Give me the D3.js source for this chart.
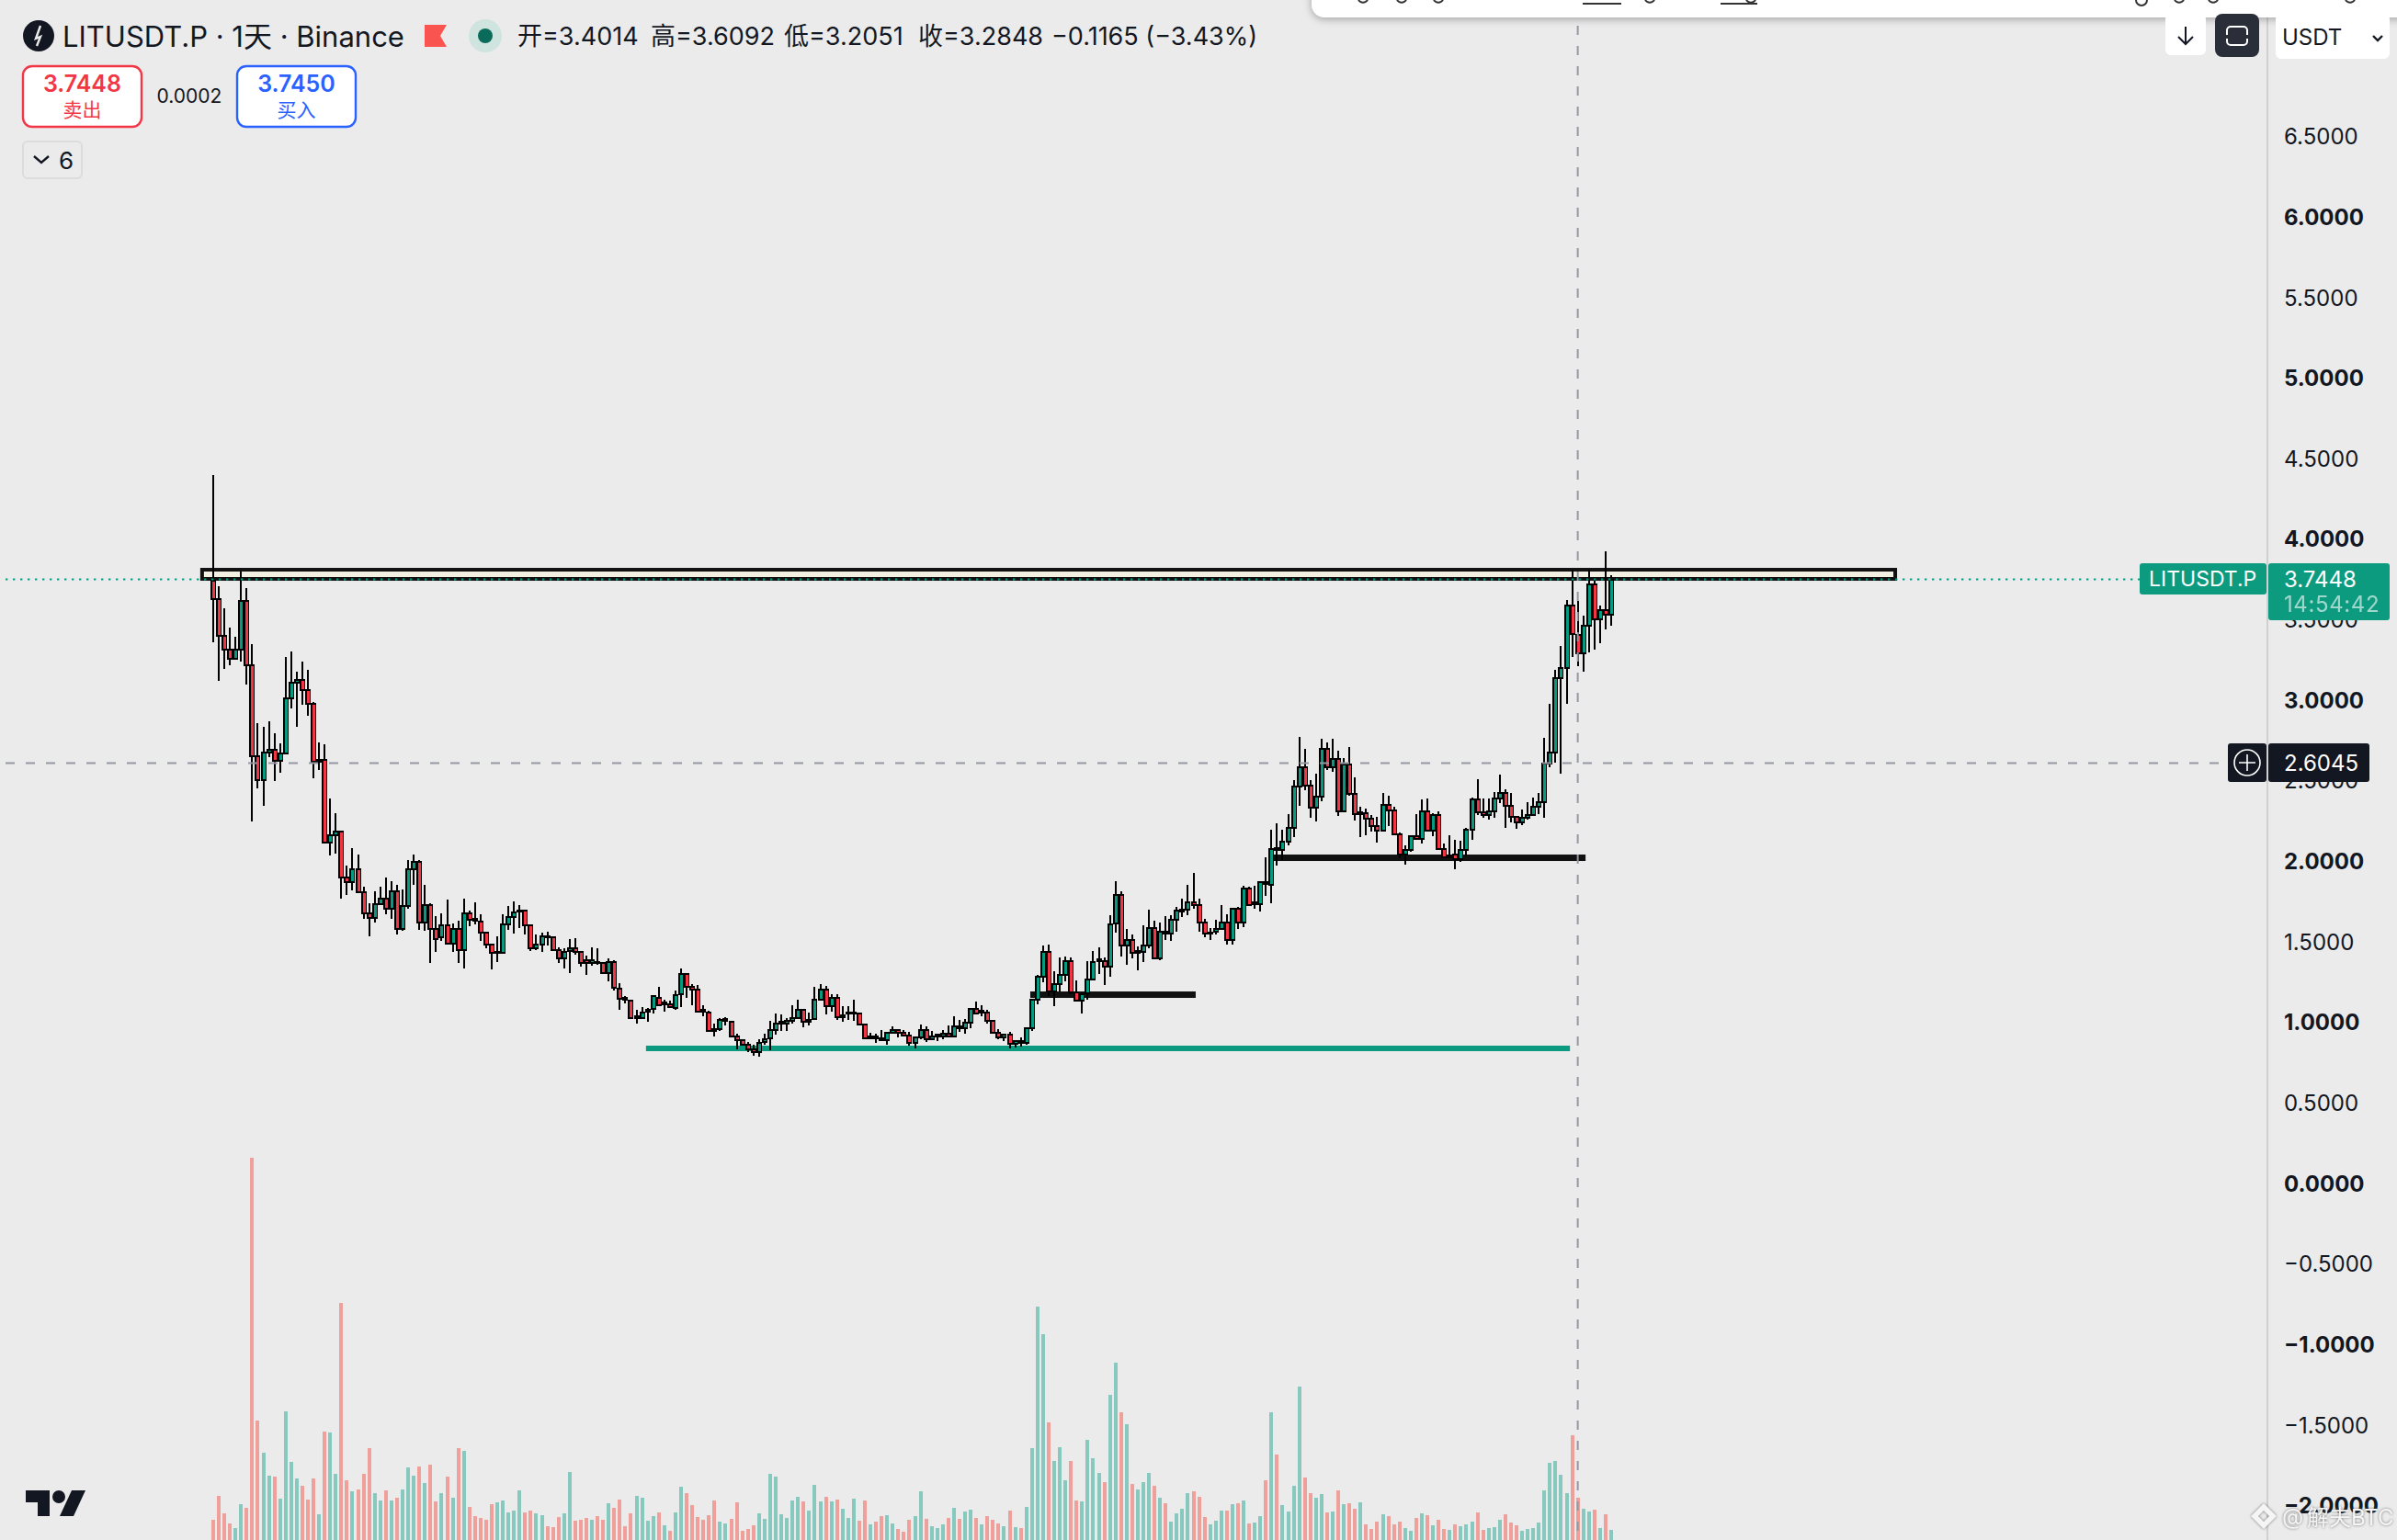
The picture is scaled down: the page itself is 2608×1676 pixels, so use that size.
<!DOCTYPE html>
<html lang="en">
<head>
<meta charset="utf-8">
<script src="https://d3js.org/d3.v7.min.js"></script>
<style>
  body { margin: 0; background: #ebebeb; }
  svg { display: block; font-family: Inter, "Noto Sans CJK SC", sans-serif; }
  .price-axis text { font-family: Inter, sans-serif; font-size: 24px; fill: #131722; }
  .price-axis text.major { font-weight: 700; }
</style>
</head>
<body>
<div id="chart"></div>
<script type="text/javascript">
var opens = [3.736,3.625,3.396,3.311,3.254,3.311,3.610,3.210,2.649,2.501,
  2.671,2.689,2.621,2.664,3.005,3.105,3.119,3.055,2.974,2.612,
  2.627,2.110,2.156,2.178,1.892,1.863,1.948,1.804,1.673,1.645,
  1.730,1.761,1.702,1.811,1.577,1.715,1.948,1.992,1.612,1.724,
  1.573,1.525,1.599,1.486,1.575,1.446,1.669,1.636,1.623,1.549,
  1.475,1.427,1.429,1.601,1.647,1.684,1.691,1.595,1.453,1.479,
  1.529,1.521,1.444,1.390,1.440,1.455,1.431,1.379,1.361,1.368,
  1.361,1.300,1.372,1.204,1.145,1.131,1.023,1.023,1.061,1.076,
  1.149,1.109,1.109,1.084,1.168,1.293,1.213,1.196,1.071,1.053,
  .954,.954,1.006,.996,.909,.882,.858,.829,.810,.871,
  .894,.949,.989,.987,1.006,1.023,1.074,.996,1.014,1.133,
  1.200,1.093,1.145,1.025,1.048,1.048,1.048,.979,.897,.905,
  .897,.882,.928,.945,.928,.915,.865,.899,.949,.888,
  .909,.909,.922,.905,.968,.956,.991,1.080,1.057,1.057,
  1.002,.928,.901,.917,.861,.877,.865,.956,1.133,1.276,
  1.430,1.185,1.230,1.291,1.377,1.181,1.128,1.175,1.263,1.377,
  1.377,1.341,1.607,1.784,1.470,1.504,1.428,1.430,1.470,1.582,
  1.390,1.556,1.544,1.630,1.685,1.692,1.738,1.721,1.612,1.544,
  1.556,1.573,1.612,1.504,1.698,1.612,1.824,1.730,1.730,1.864,
  1.850,2.075,2.063,2.115,2.200,2.457,2.577,2.463,2.326,2.394,
  2.691,2.577,2.628,2.303,2.594,2.411,2.289,2.291,2.257,2.211,
  2.183,2.343,2.308,2.160,2.035,2.063,2.149,2.132,2.303,2.183,
  2.280,2.069,2.018,2.035,2.006,2.063,2.189,2.377,2.297,2.280,
  2.303,2.383,2.417,2.337,2.269,2.234,2.263,2.280,2.331,2.360,
  2.599,2.668,3.130,3.193,3.580,3.4014,3.285,3.455,3.712,3.495,3.552,3.523];

var highs = [4.393,3.701,3.566,3.446,3.389,3.795,3.690,3.343,2.852,2.830,
  2.863,2.787,2.726,3.263,3.298,3.171,3.234,3.184,2.983,2.732,
  2.721,2.383,2.293,2.178,1.968,2.077,2.036,1.835,1.735,1.807,
  1.839,1.892,1.874,1.848,1.820,2.005,2.036,2.005,1.848,1.735,
  1.652,1.669,1.756,1.608,1.625,1.765,1.691,1.739,1.663,1.560,
  1.481,1.529,1.663,1.715,1.743,1.724,1.693,1.604,1.540,1.551,
  1.558,1.529,1.459,1.455,1.512,1.516,1.440,1.409,1.459,1.455,
  1.368,1.390,1.383,1.237,1.160,1.135,1.072,1.090,1.084,1.162,
  1.213,1.133,1.128,1.190,1.329,1.301,1.230,1.225,1.099,1.065,
  .987,1.019,1.025,1.002,.922,.888,.871,.854,.888,.922,
  1.002,1.048,1.044,1.021,1.099,1.133,1.078,1.053,1.213,1.230,
  1.219,1.168,1.168,1.093,1.093,1.133,1.053,.985,.928,.922,
  .945,.934,.968,.951,.945,.934,.905,.979,.968,.939,
  .917,.945,.974,1.031,1.008,1.014,1.084,1.122,1.099,1.071,
  1.008,.951,.924,.934,.880,.899,.962,1.135,1.287,1.470,
  1.476,1.310,1.396,1.401,1.396,1.253,1.181,1.373,1.436,1.459,
  1.396,1.660,1.871,1.807,1.573,1.538,1.464,1.595,1.692,1.624,
  1.612,1.652,1.658,1.709,1.761,1.846,1.921,1.761,1.635,1.578,
  1.630,1.721,1.664,1.698,1.709,1.841,1.835,1.841,1.869,2.018,
  2.189,2.230,2.189,2.286,2.497,2.765,2.691,2.497,2.537,2.753,
  2.732,2.753,2.679,2.634,2.702,2.514,2.331,2.320,2.280,2.269,
  2.417,2.400,2.331,2.171,2.092,2.154,2.286,2.377,2.383,2.291,
  2.303,2.103,2.154,2.126,2.120,2.200,2.388,2.502,2.383,2.383,
  2.423,2.531,2.440,2.417,2.274,2.314,2.360,2.388,2.417,2.759,
  2.972,3.183,3.329,3.615,3.805,3.6092,3.520,3.805,3.748,3.582,3.919,3.771];

var lows = [3.354,3.114,3.188,3.212,3.254,3.234,3.092,2.241,2.446,2.339,
  2.640,2.492,2.544,2.656,2.944,2.830,2.966,2.898,2.509,2.562,
  2.110,2.031,2.044,1.763,1.785,1.813,1.800,1.636,1.529,1.614,
  1.730,1.665,1.636,1.540,1.564,1.700,1.848,1.569,1.564,1.363,
  1.431,1.499,1.477,1.431,1.363,1.328,1.590,1.604,1.501,1.455,
  1.324,1.370,1.418,1.569,1.547,1.579,1.540,1.438,1.444,1.431,
  1.473,1.440,1.363,1.328,1.300,1.414,1.342,1.289,1.346,1.353,
  1.298,1.250,1.193,1.071,1.112,1.017,.989,1.017,1.000,1.052,
  1.095,1.063,1.084,1.074,1.092,1.149,1.103,1.055,1.034,.937,
  .909,.943,.975,.903,.827,.850,.812,.789,.782,.856,
  .823,.918,.941,.941,.987,1.017,.966,.975,1.010,1.128,
  1.044,1.061,1.010,.998,1.010,1.004,.975,.890,.890,.867,
  .880,.856,.924,.901,.907,.850,.833,.888,.873,.884,
  .879,.890,.901,.901,.936,.924,.958,1.044,1.032,.987,
  .924,.892,.879,.833,.839,.844,.858,.941,1.107,1.244,
  1.158,1.095,1.185,1.249,1.171,1.124,1.050,1.135,1.255,1.295,
  1.227,1.278,1.552,1.403,1.352,1.392,1.318,1.369,1.457,1.390,
  1.381,1.504,1.500,1.557,1.649,1.660,1.700,1.557,1.523,1.506,
  1.540,1.569,1.477,1.477,1.575,1.586,1.717,1.700,1.681,1.780,
  1.734,1.970,2.004,2.096,2.147,2.339,2.436,2.265,2.242,2.367,
  2.561,2.550,2.276,2.303,2.402,2.248,2.145,2.156,2.179,2.111,
  2.183,2.213,2.156,2.014,1.974,2.054,2.128,2.105,2.183,2.151,
  2.065,2.014,2.014,1.945,1.991,2.031,2.128,2.282,2.263,2.253,
  2.265,2.354,2.202,2.236,2.196,2.219,2.253,2.276,2.287,2.265,
  2.578,2.607,2.540,2.972,3.263,3.2051,3.172,3.291,3.309,3.348,3.434,3.457];

var closes = [3.625,3.396,3.311,3.254,3.311,3.610,3.210,2.649,2.501,2.671,
  2.689,2.621,2.664,3.005,3.101,3.119,3.055,2.970,2.612,2.627,
  2.110,2.154,2.178,1.892,1.863,1.948,1.804,1.673,1.645,1.730,
  1.761,1.702,1.811,1.577,1.715,1.948,1.992,1.612,1.724,1.573,
  1.514,1.599,1.486,1.575,1.446,1.669,1.630,1.628,1.549,1.475,
  1.425,1.433,1.601,1.647,1.678,1.691,1.595,1.453,1.477,1.529,
  1.521,1.444,1.390,1.433,1.455,1.431,1.361,1.361,1.379,1.361,
  1.300,1.368,1.211,1.141,1.136,1.019,1.031,1.057,1.071,1.156,
  1.101,1.116,1.088,1.162,1.293,1.213,1.196,1.063,1.061,.939,
  .939,1.008,1.014,.909,.882,.858,.829,.810,.869,.892,
  .949,.989,.996,1.006,1.023,1.074,.996,1.012,1.133,1.200,
  1.093,1.145,1.025,1.040,1.055,1.055,.979,.894,.905,.897,
  .882,.928,.945,.928,.915,.865,.899,.949,.888,.905,
  .917,.922,.905,.968,.956,.991,1.080,1.052,1.065,1.002,
  .928,.899,.917,.861,.877,.865,.956,1.133,1.276,1.430,
  1.185,1.230,1.291,1.377,1.181,1.128,1.169,1.263,1.367,1.384,
  1.341,1.601,1.784,1.470,1.504,1.424,1.436,1.470,1.582,1.390,
  1.556,1.544,1.630,1.687,1.692,1.738,1.721,1.612,1.544,1.554,
  1.573,1.612,1.504,1.698,1.612,1.824,1.721,1.738,1.864,1.852,
  2.069,2.065,2.115,2.200,2.457,2.577,2.463,2.326,2.394,2.691,
  2.577,2.628,2.303,2.594,2.411,2.286,2.297,2.257,2.211,2.183,
  2.343,2.308,2.160,2.035,2.063,2.149,2.132,2.303,2.183,2.280,
  2.069,2.018,2.029,2.006,2.063,2.189,2.377,2.297,2.280,2.303,
  2.383,2.417,2.337,2.269,2.234,2.263,2.280,2.331,2.360,2.599,
  2.668,3.130,3.193,3.580,3.404,3.2848,3.455,3.712,3.495,3.552,3.523,3.7448];

// volume in thousands
var volumes = [22,48,29,18,13,39,35,416,130,95,
  70,69,45,140,85,67,59,44,67,28,
  118,117,72,258,65,53,55,72,100,51,
  43,54,43,46,55,79,70,80,62,82,
  42,51,69,46,100,97,36,26,24,22,
  39,41,43,30,32,54,30,32,29,27,
  15,14,25,29,74,21,22,24,22,26,
  22,40,35,44,15,29,48,46,21,26,
  30,16,10,30,58,51,38,25,22,27,
  43,20,18,23,41,10,12,16,29,23,
  72,69,28,24,43,47,42,32,60,42,
  47,42,44,34,24,45,21,43,17,20,
  26,27,18,12,9,22,26,53,23,15,
  13,17,24,35,23,31,33,24,17,26,
  22,18,15,32,14,13,36,100,254,224,
  128,86,101,65,86,43,42,109,89,73,
  63,158,193,139,126,61,55,63,73,59,
  46,40,20,29,34,51,53,47,25,17,
  21,32,32,39,40,43,18,19,26,65,
  139,93,38,31,59,167,68,51,46,50,
  30,31,54,39,40,34,41,17,12,20,
  28,26,17,20,13,10,24,29,27,16,
  22,12,11,17,15,17,20,30,11,13,
  14,22,28,19,16,10,12,13,19,54,
  84,86,71,51,114,46,34,31,33,13,28,11];

var priceTicks = [6.5,6,5.5,5,4.5,4,3.5,3,2.5,2,1.5,1,0.5,0,-0.5,-1,-1.5,-2];

// drawn levels: price, first bar, last bar
var levelPrices = [1.1666, 2.0166, 0.8329];
var levelStarts = [146.7, 190.3, 77.7];
var levelEnds = [176.4, 246.4, 243.6];
var levelColors = ["#111111", "#111111", "#0b9a80"];

var zoneTop = 3.805, zoneBottom = 3.748, zoneStart = -2, zoneEnd = 302;
var lastPrice = 3.7448, crossPrice = 2.6045, crossBar = 245;

var ohlcParts = ["开=3.4014", "高=3.6092", "低=3.2051", "收=3.2848", "−0.1165 (−3.43%)"];
var ohlcX = [563, 708, 853, 999, 1144];

var width = 2608, height = 1676;
var upColor = "#089981", downColor = "#f23645";

var x = d3.scaleLinear().domain([0, 251]).range([232, 1753]);
var y = d3.scaleLinear().domain([-2, 6.5]).range([1637.6, 147.6]);
var vol = d3.scaleLinear().domain([0, 420]).range([1676, 1256]);

var svg = d3.select("#chart").append("svg")
    .attr("width", width).attr("height", height);

svg.append("rect").attr("width", width).attr("height", height).attr("fill", "#ebebeb");

// axis
var axis = d3.axisRight(y).tickValues(priceTicks).tickSize(0).tickPadding(0)
    .tickFormat(d3.format(".4f"));
var axisG = svg.append("g").attr("class", "price-axis")
    .attr("transform", "translate(2485,0)").call(axis);
axisG.select(".domain").remove();
axisG.selectAll("text")
    .attr("dy", "0.38em")
    .classed("major", function (d) { return d % 1 === 0; });

svg.append("line").attr("x1", 2467).attr("x2", 2467).attr("y1", 0).attr("y2", height)
    .attr("stroke", "#d0d0d0").attr("stroke-width", 2);

// volume
svg.append("g").selectAll("rect").data(volumes).enter().append("rect")
    .attr("x", function (d, i) { return Math.round(x(i)) - 2; })
    .attr("width", 4)
    .attr("y", function (d) { return vol(d); })
    .attr("height", function (d) { return vol(0) - vol(d); })
    .attr("fill", function (d, i) { return closes[i] >= opens[i] ? "#88c9bf" : "#f0a09b"; });

// resistance zone
svg.append("rect")
    .attr("x", x(zoneStart)).attr("width", x(zoneEnd) - x(zoneStart))
    .attr("y", y(zoneTop)).attr("height", y(zoneBottom) - y(zoneTop))
    .attr("fill", "#f2efe3").attr("stroke", "#111111").attr("stroke-width", 4);

// horizontal levels
svg.append("g").selectAll("rect").data(levelPrices).enter().append("rect")
    .attr("x", function (d, i) { return x(levelStarts[i]); })
    .attr("width", function (d, i) { return x(levelEnds[i]) - x(levelStarts[i]); })
    .attr("y", function (d, i) { return y(d) - (i === 2 ? 3 : 3.5); })
    .attr("height", function (d, i) { return i === 2 ? 6 : 7; })
    .attr("fill", function (d, i) { return levelColors[i]; });

// candles
var candles = svg.append("g").selectAll("g").data(opens).enter().append("g")
    .attr("shape-rendering", "crispEdges");
candles.append("rect")
    .attr("x", function (d, i) { return Math.round(x(i)) - 1; })
    .attr("width", 2)
    .attr("y", function (d, i) { return y(highs[i]); })
    .attr("height", function (d, i) { return y(lows[i]) - y(highs[i]); })
    .attr("fill", "#000");
candles.append("rect")
    .attr("x", function (d, i) { return Math.round(x(i)) - 3; })
    .attr("width", 6)
    .attr("y", function (d, i) { return y(Math.max(d, closes[i])) - 1; })
    .attr("height", function (d, i) { return Math.abs(y(d) - y(closes[i])) + 2; })
    .attr("fill", "#000");
candles.append("rect")
    .attr("x", function (d, i) { return Math.round(x(i)) - 1; })
    .attr("width", 3)
    .attr("y", function (d, i) { return y(Math.max(d, closes[i])) + 1; })
    .attr("height", function (d, i) { return Math.max(0, Math.abs(y(d) - y(closes[i])) - 2); })
    .attr("fill", function (d, i) { return closes[i] >= d ? upColor : downColor; });

// last price dotted line
svg.append("line").attr("x1", 6).attr("x2", 2330)
    .attr("y1", y(lastPrice)).attr("y2", y(lastPrice))
    .attr("stroke", "#089981").attr("stroke-width", 2).attr("stroke-dasharray", "2.4,5.6");

// crosshair
svg.append("line").attr("x1", 6).attr("x2", 2424)
    .attr("y1", y(crossPrice)).attr("y2", y(crossPrice))
    .attr("stroke", "#9598a1").attr("stroke-width", 2).attr("stroke-dasharray", "10,12");
svg.append("line").attr("x1", x(crossBar)).attr("x2", x(crossBar))
    .attr("y1", 6).attr("y2", height)
    .attr("stroke", "#9598a1").attr("stroke-width", 2).attr("stroke-dasharray", "10,12");

// price labels on the axis
function tag(px, py, w, h, fill, r) {
    svg.append("rect").attr("x", px).attr("y", py).attr("width", w).attr("height", h)
        .attr("rx", r || 3).attr("fill", fill);
}
function label(str, px, py, size, fill) {
    return svg.append("text").attr("x", px).attr("y", py)
        .style("font-size", size + "px").attr("fill", fill).text(str);
}

tag(2328, 613, 138, 34, "#0d9b80");
label("LITUSDT.P", 2338, 638, 23, "#ffffff");
tag(2468, 613, 132, 62, "#0d9b80");
label("3.7448", 2485, 639, 24, "#ffffff");
label("14:54:42", 2485, 666, 24, "#ffffff").attr("opacity", 0.6).style("letter-spacing", "0.6px");

tag(2424, 809, 42, 42, "#131722");
tag(2468, 809, 110, 42, "#131722");
label("2.6045", 2485, 839, 24, "#ffffff");
svg.append("circle").attr("cx", 2445).attr("cy", 830).attr("r", 14)
    .attr("fill", "none").attr("stroke", "#fff").attr("stroke-width", 1.6);
svg.append("path").attr("d", "M2436 830H2454M2445 821V839").attr("stroke", "#fff").attr("stroke-width", 1.6);

// header
svg.append("circle").attr("cx", 42).attr("cy", 39).attr("r", 17).attr("fill", "#131722");
svg.append("path").attr("d", "M44 28L39 42L44 40L40 50").attr("fill", "none").attr("stroke", "#ebebeb").attr("stroke-width", 2.4);
label("LITUSDT.P · 1天 · Binance", 68, 51, 31, "#131722");
svg.append("path").attr("d", "M462 27H486L479 39L486 51H462Z").attr("fill", "#f95450");
svg.append("circle").attr("cx", 528).attr("cy", 39).attr("r", 18).attr("fill", "#cfe3df");
svg.append("circle").attr("cx", 528).attr("cy", 39).attr("r", 8).attr("fill", "#0b6b5b");
ohlcParts.forEach(function (p, i) { label(p, ohlcX[i], 49, 27, "#131722"); });

// bid and ask buttons
svg.append("rect").attr("x", 25).attr("y", 72).attr("width", 129).attr("height", 66).attr("rx", 10)
    .attr("fill", "#fff").attr("stroke", "#f23645").attr("stroke-width", 2.4);
label("3.7448", 89.5, 100, 25, "#f23645").attr("text-anchor", "middle").style("font-weight", 600);
label("卖出", 89.5, 127, 21, "#f23645").attr("text-anchor", "middle");
label("0.0002", 206, 112, 21, "#131722").attr("text-anchor", "middle");
svg.append("rect").attr("x", 258).attr("y", 72).attr("width", 129).attr("height", 66).attr("rx", 10)
    .attr("fill", "#fff").attr("stroke", "#2962ff").attr("stroke-width", 2.4);
label("3.7450", 322.5, 100, 25, "#2962ff").attr("text-anchor", "middle").style("font-weight", 600);
label("买入", 322.5, 127, 21, "#2962ff").attr("text-anchor", "middle");

svg.append("rect").attr("x", 25).attr("y", 154).attr("width", 64).attr("height", 40).attr("rx", 5)
    .attr("fill", "#ebebeb").attr("stroke", "#dcdcdc").attr("stroke-width", 2);
svg.append("path").attr("d", "M37 170L45 177L53 170").attr("fill", "none").attr("stroke", "#131722").attr("stroke-width", 2.4);
label("6", 64, 184, 26, "#131722");

// top right toolbar
svg.append("rect").attr("x", 1427).attr("y", -30).attr("width", 1300).attr("height", 49).attr("rx", 14)
    .attr("fill", "#fff").style("filter", "drop-shadow(0 2px 4px rgba(0,0,0,0.3))");
svg.append("path")
    .attr("d", "M2324 0a6 6 0 0 0 12 0M2366 0a6 6 0 0 0 10 0M2403 0a6 6 0 0 0 10 0M2552 0a6 6 0 0 0 10 0M1478 0a6 6 0 0 0 10 0M1520 0a6 6 0 0 0 10 0M1560 0a6 6 0 0 0 10 0M1790 0a6 6 0 0 0 10 0M1900 0a6 6 0 0 0 10 0")
    .attr("fill", "none").attr("stroke", "#333").attr("stroke-width", 2);
svg.append("path").attr("d", "M1722 4H1764M1872 4H1912").attr("stroke", "#333").attr("stroke-width", 2);

tag(2356, 15, 44, 45, "#ffffff", 6);
svg.append("path").attr("d", "M2378 29V48M2370 40L2378 48L2386 40").attr("fill", "none").attr("stroke", "#131722").attr("stroke-width", 2);
tag(2410, 15, 48, 47, "#2a2e39", 8);
svg.append("path").attr("d", "M2423 38V33a4 4 0 0 1 4-4H2441a4 4 0 0 1 4 4V38M2423 42V45a4 4 0 0 0 4 4H2441a4 4 0 0 0 4-4V42")
    .attr("fill", "none").attr("stroke", "#fff").attr("stroke-width", 2);
tag(2476, 15, 124, 49, "#ffffff", 6);
label("USDT", 2483, 49, 24, "#131722");
svg.append("path").attr("d", "M2582 39L2587 44L2592 39").attr("fill", "none").attr("stroke", "#131722").attr("stroke-width", 2.4);

// TradingView mark
svg.append("path").attr("d", "M28 1622H54V1650H41V1635H28Z").attr("fill", "#131722");
svg.append("circle").attr("cx", 64).attr("cy", 1629).attr("r", 7).attr("fill", "#131722");
svg.append("path").attr("d", "M78 1622H93L80 1650H65Z").attr("fill", "#131722");

// watermark
var wm = svg.append("g").style("filter", "drop-shadow(0 0 1.5px rgba(90,90,90,0.8))");
wm.append("path").attr("d", "M2463 1636L2477 1650L2463 1664L2449 1650ZM2463 1644L2457 1650L2463 1656L2469 1650Z")
    .attr("fill", "#f5f5f5").attr("fill-rule", "evenodd");
wm.append("text").attr("x", 2483).attr("y", 1659).attr("fill", "#f5f5f5").style("font-size", "24px").text("@");
wm.append("text").attr("x", 2510).attr("y", 1660).attr("fill", "#f5f5f5").style("font-size", "24px").text("解夫BTC");
</script>
</body>
</html>
